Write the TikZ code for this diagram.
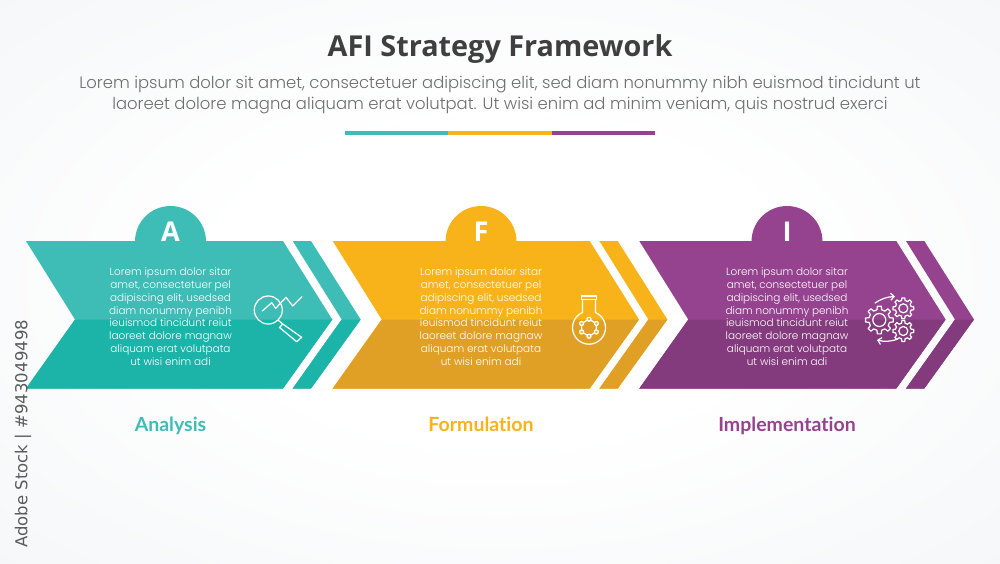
\documentclass[tikz,border=0pt]{standalone}
\usepackage{xcolor}
\usepackage{fontspec}
\setmainfont{Poppins Light}
\newfontfamily\opensans{Open Sans}
\newfontfamily\lato[Ligatures=NoCommon]{Lato}
\newfontfamily\dejavu{DejaVu Sans}
\usetikzlibrary{arrows.meta}

\definecolor{bgedge}{HTML}{EFF2F4}
\definecolor{tealtop}{HTML}{3DBDB5}
\definecolor{teallow}{HTML}{1CB4A9}
\definecolor{ambertop}{HTML}{F8B31A}
\definecolor{amberlow}{HTML}{E0A025}
\definecolor{plumtop}{HTML}{95438F}
\definecolor{plumlow}{HTML}{843B7D}
\definecolor{titlegray}{HTML}{3F3F3F}
\definecolor{subgray}{HTML}{6E6E6E}

\pgfdeclareradialshading{softglow}{\pgfpoint{0bp}{0bp}}{
    color(0bp)=(white); color(14bp)=(white); color(50bp)=(bgedge); color(100bp)=(bgedge)}

\tikzset{
    headline/.style={font=\opensans\bfseries\fontsize{16.4}{20}\selectfont,text=titlegray,inner sep=0pt},
    subline/.style={font=\fontsize{9.35}{11.5}\selectfont,text=subgray,align=center,inner sep=0pt},
    blurb/.style={font=\fontsize{5.95}{7.27}\selectfont,text=white,align=center,inner sep=0pt},
    letter/.style={font=\opensans\bfseries\fontsize{15.5}{18}\selectfont,text=white,inner sep=0pt,anchor=base},
    caption/.style={font=\lato\bfseries\fontsize{11.1}{13}\selectfont,inner sep=0pt,anchor=base},
    stockline/.style={font=\dejavu\fontsize{9.4}{11}\selectfont,text=titlegray!85,inner sep=0pt,rotate=90},
    iconline/.style={draw=white,line width=0.7pt,line join=round,line cap=round},
}

% gear icon: centre, outer radius, inner radius, ring radius
\newcommand{\gearicon}[4]{
    \draw[iconline,shift={#1}] (-13:#3) \foreach \t in {0,45,...,315} {
        -- (\t-13:#3) -- (\t-8:#2) -- (\t+8:#2) -- (\t+13:#3)
    } -- cycle;
    \draw[iconline,shift={#1}] (0,0) circle (#4);
}

\begin{document}
\begin{tikzpicture}[x=0.2mm,y=-0.2mm]
    \useasboundingbox (0,0) rectangle (1000,563);
    \shade[shading=softglow] (0,0) rectangle (1000,563);

    % heading
    \node[headline] (title) at (500,49) {AFI Strategy Framework};
    \node[subline] (intro) at (500,95) {Lorem ipsum dolor sit amet, consectetuer adipiscing elit, sed diam nonummy nibh euismod tincidunt ut\\
        laoreet dolore magna aliquam erat volutpat. Ut wisi enim ad minim veniam, quis nostrud exerci};
    \fill[tealtop] (345,131) rectangle (448,134.5);
    \fill[ambertop] (448,131) rectangle (552,134.5);
    \fill[plumtop] (552,131) rectangle (655,134.5);

    % the three arrows
    \foreach \nm/\dx/\cx/\ctop/\clow/\lett/\word in {
        a/0/170.5/tealtop/teallow/A/Analysis,
        f/306.7/481/ambertop/amberlow/F/Formulation,
        i/613.3/787/plumtop/plumlow/I/Implementation} {
        \begin{scope}[xshift=\dx*0.2mm]
            \fill[\ctop] (26,241) -- (283,241) -- (332.3,319.5) -- (283,388.5) -- (26,388.5) -- (75,319.5) -- cycle;
            \fill[\clow] (75,319.5) -- (332.3,319.5) -- (283,388.5) -- (26,388.5) -- cycle;
            \fill[\ctop] (292.7,241) -- (311,241) -- (360.7,319.5) -- (311,388.5) -- (292.7,388.5) -- (341.7,319.5) -- cycle;
            \fill[\clow] (341.7,319.5) -- (360.7,319.5) -- (311,388.5) -- (292.7,388.5) -- cycle;
        \end{scope}
        \fill[\ctop] (\cx-35.5,241.5) arc (180:360:35.5) -- cycle;
        \node[letter] (letter\nm) at (\cx,241) {\lett};
        \node[blurb] (text\nm) at (\cx,316.5) {Lorem ipsum dolor sitar\\
            amet, consectetuer pel\\
            adipiscing elit, usedsed\\
            diam nonummy penibh\\
            ieuismod tincidunt reiut\\
            laoreet dolore magnaw\\
            aliquam erat volutpata\\
            ut wisi enim adi};
        \node[caption,text=\ctop] (label\nm) at (\cx,431.5) {\word};
    }

    % magnifier icon
    \draw[iconline] (268.3,310) circle (14);
    \draw[iconline] (262.3,311) -- (271.7,302.7) -- (275.7,308.3) -- (286,297.3) -- (292.7,306) -- (302,296.7);
    \draw[iconline] (278.5,320.5) -- (282.7,324);
    \draw[iconline] (282.7,324) -- (301.7,337.3) -- (296.7,341.7) -- (279.5,327.5) -- cycle;

    % flask icon
    \draw[iconline] (582.5,299.5) -- (582.5,312.5) arc (246.8:-66.8:16.5) -- (595.5,299.5);
    \draw[iconline] (581.5,296) rectangle (596.5,299.5);
    \draw[iconline] (589,327.7) circle (7.5);
    \foreach \a in {0,60,...,300} {
        \draw[iconline,fill=ambertop] ([shift={(589,327.7)}]\a+30:8.5) circle (2);
    }

    % gears icon
    \gearicon{(879.3,320)}{14}{10.5}{6.5}
    \gearicon{(903.3,308.3)}{10.5}{8}{4.5}
    \gearicon{(903.3,331)}{10.5}{8}{4.5}
    \draw[iconline,-{Straight Barb[length=2pt]}] (875,303) to[bend left=15] (895,296.5);
    \draw[iconline,-{Straight Barb[length=2pt]}] (896.5,339.5) to[bend left=15] (877,340);

    % side credit
    \node[stockline,anchor=west] (stock) at (23,548) {Adobe Stock | \#943049498};
\end{tikzpicture}
\end{document}
